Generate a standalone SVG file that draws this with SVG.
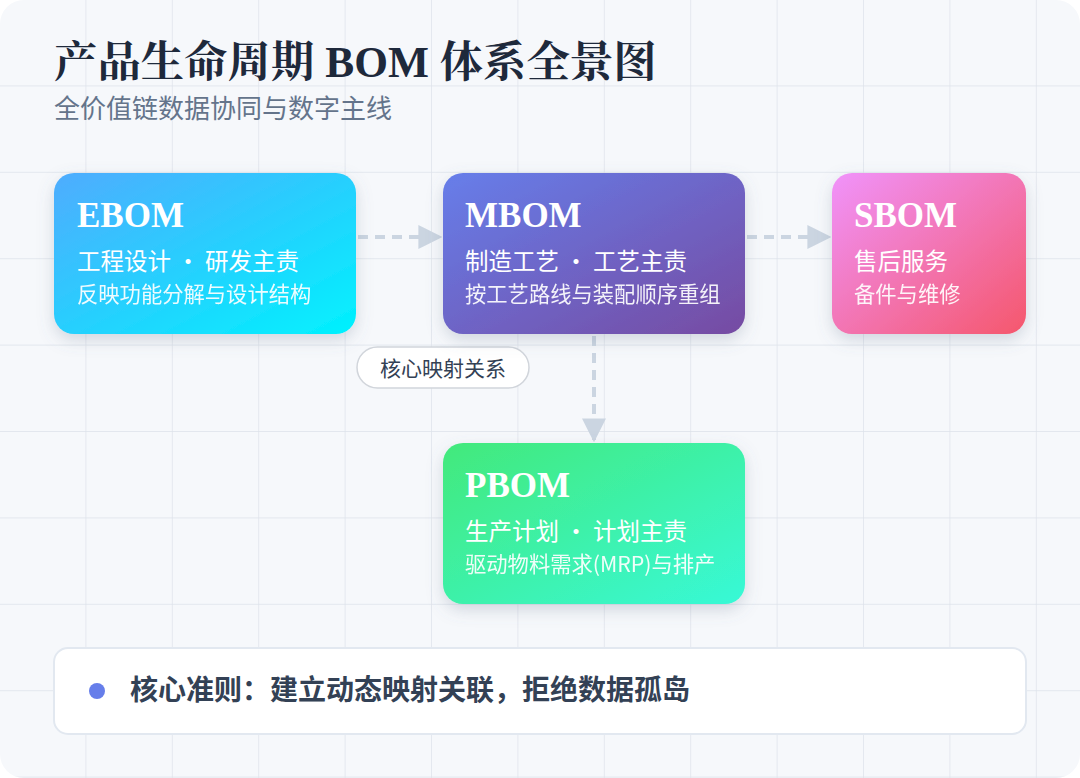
<svg xmlns="http://www.w3.org/2000/svg" width="1080" height="778" viewBox="0 0 1080 778">
<defs>
<linearGradient id="gE" x1="0" y1="0" x2="1" y2="1"><stop offset="0" stop-color="#4facfe"/><stop offset="1" stop-color="#00f2fe"/></linearGradient>
<linearGradient id="gM" x1="0" y1="0" x2="1" y2="1"><stop offset="0" stop-color="#667eea"/><stop offset="1" stop-color="#764ba2"/></linearGradient>
<linearGradient id="gS" x1="0" y1="0" x2="1" y2="1"><stop offset="0" stop-color="#f093fb"/><stop offset="1" stop-color="#f5576c"/></linearGradient>
<linearGradient id="gP" x1="0" y1="0" x2="1" y2="1"><stop offset="0" stop-color="#43e97b"/><stop offset="1" stop-color="#38f9d7"/></linearGradient>
<pattern id="grid" width="86.4" height="86.4" patternUnits="userSpaceOnUse"><path d="M86.4 0V86.4M0 86.4H86.4" fill="none" stroke="#dde2ea" stroke-width="1.4"/></pattern>
<filter id="sh" x="-20%" y="-20%" width="140%" height="150%"><feDropShadow dx="0" dy="6" stdDeviation="8" flood-color="#64748b" flood-opacity="0.25"/></filter>
<marker id="ar" viewBox="0 0 10 10" refX="9" refY="5" markerWidth="6" markerHeight="6.5" orient="auto"><path d="M0 0L10 5L0 10z" fill="#cbd5e1"/></marker>
</defs>
<style>
.t{font-family:"Liberation Serif","Noto Serif CJK SC",serif;font-weight:bold;font-size:35px;fill:#fff}
.a{font-family:"Noto Sans CJK SC",sans-serif;font-size:23.5px;fill:#fff}
.b{font-family:"Noto Sans CJK SC",sans-serif;font-size:21.3px;fill:#fff;opacity:.92}
.c{stroke:#cbd5e1;stroke-width:4;stroke-dasharray:10 7;fill:none;marker-end:url(#ar)}
</style>
<rect width="1080" height="778" rx="24" fill="#f6f8fb"/>
<rect width="1080" height="778" rx="24" fill="url(#grid)"/>
<text x="54" y="77" font-family="Liberation Serif,Noto Serif CJK SC,Noto Sans CJK SC,serif" font-weight="bold" font-size="43.4" fill="#1e293b">产品生命周期 BOM 体系全景图</text>
<text x="54" y="118" font-family="Noto Sans CJK SC,sans-serif" font-size="26" fill="#64748b">全价值链数据协同与数字主线</text>
<g id="connectors">
<line class="c" x1="358" y1="237" x2="440" y2="237"/>
<line class="c" x1="747" y1="237" x2="829" y2="237"/>
<line class="c" x1="594" y1="336" x2="594" y2="440"/>
<g id="label"><rect x="357" y="347" width="172" height="41" rx="20.5" fill="#fff" stroke="#d1d5db" stroke-width="1.5"/>
<text x="443" y="375.5" text-anchor="middle" font-family="Noto Sans CJK SC,sans-serif" font-size="21" fill="#334155">核心映射关系</text></g>
</g>
<g id="ebom"><rect x="54" y="173" width="302" height="161" rx="20" fill="url(#gE)" filter="url(#sh)"/>
<text class="t" x="77" y="227">EBOM</text><text class="a" x="77" y="270">工程设计 · 研发主责</text><text class="b" x="77" y="302">反映功能分解与设计结构</text></g>
<g id="mbom"><rect x="443" y="173" width="302" height="161" rx="20" fill="url(#gM)" filter="url(#sh)"/>
<text class="t" x="465" y="227">MBOM</text><text class="a" x="465" y="270">制造工艺 · 工艺主责</text><text class="b" x="465" y="302">按工艺路线与装配顺序重组</text></g>
<g id="sbom"><rect x="832" y="173" width="194" height="161" rx="20" fill="url(#gS)" filter="url(#sh)"/>
<text class="t" x="854" y="227">SBOM</text><text class="a" x="854" y="270">售后服务</text><text class="b" x="854" y="302">备件与维修</text></g>
<g id="pbom"><rect x="443" y="443" width="302" height="161" rx="20" fill="url(#gP)" filter="url(#sh)"/>
<text class="t" x="465" y="497">PBOM</text><text class="a" x="465" y="540">生产计划 · 计划主责</text><text class="b" x="465" y="572">驱动物料需求(MRP)与排产</text></g>
<g id="note"><rect x="54" y="648" width="972" height="86" rx="14" fill="#fff" stroke="#e2e8f0" stroke-width="2"/>
<circle cx="97" cy="691" r="8" fill="#667eea"/>
<text x="130" y="700" font-family="Noto Sans CJK SC,sans-serif" font-weight="bold" font-size="28" fill="#334155">核心准则：建立动态映射关联，拒绝数据孤岛</text></g>
</svg>
